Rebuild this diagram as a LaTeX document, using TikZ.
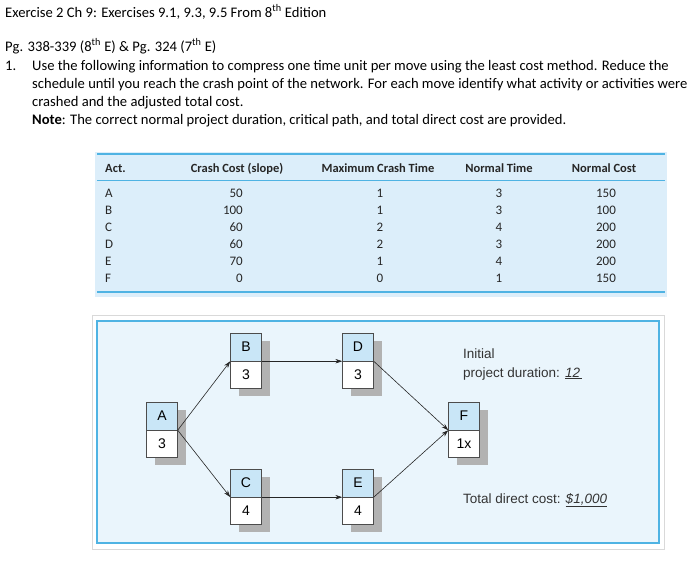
\documentclass[tikz,border=0pt]{standalone}
\usepackage{fontspec}
\setmainfont{Carlito}
\newfontfamily\figfont{Liberation Sans}
\usetikzlibrary{positioning,shadows,arrows.meta}
\definecolor{tabfill}{HTML}{DCEEFA}
\definecolor{netfill}{HTML}{EAF5FC}
\definecolor{rulecol}{HTML}{4FB3E3}
\definecolor{topfill}{HTML}{C9E6F7}
\tikzset{
  hdr/.style={anchor=base west, font=\fontsize{14.6}{17}\selectfont, inner sep=0pt},
  tab/.style={anchor=base, font=\fontsize{13}{15}\selectfont, inner sep=0pt, text=black!85},
  tabh/.style={tab, font=\fontsize{12.5}{14}\selectfont\bfseries},
  acttop/.style={draw=black!70, fill=topfill, minimum width=31pt, minimum height=28pt,
    inner sep=0pt, font=\figfont\fontsize{14}{16}\selectfont,
    drop shadow={shadow xshift=8pt, shadow yshift=-8pt, opacity=1, fill=black!30}},
  actbot/.style={acttop, fill=white, minimum height=27pt},
  link/.style={draw=black!85, semithick, -{Stealth[length=7pt,width=4.5pt]}},
  note/.style={anchor=base west, inner sep=0pt, font=\figfont\fontsize{13.5}{16}\selectfont, text=black!80}
}
\begin{document}
\begin{tikzpicture}[x=1pt, y=-1pt]
  \useasboundingbox (0,0) rectangle (700,560);
  % header text
  \node[hdr] (title) at (5,17) {Exercise 2 Ch 9: Exercises 9.1, 9.3, 9.5 From 8\textsuperscript{th} Edition};
  \node[hdr] (pages) at (5,51) {Pg. 338-339 (8\textsuperscript{th} E) \& Pg. 324 (7\textsuperscript{th} E)};
  \node[hdr] (num) at (5,70) {1.};
  \node[hdr] (l1) at (32,70) {Use the following information to compress one time unit per move using the least cost method. Reduce the};
  \node[hdr] (l2) at (32,88) {schedule until you reach the crash point of the network. For each move identify what activity or activities were};
  \node[hdr] (l3) at (32,106) {crashed and the adjusted total cost.};
  \node[hdr] (l4) at (32,124) {\textbf{Note}: The correct normal project duration, critical path, and total direct cost are provided.};

  % table
  \fill[tabfill] (95,152) rectangle (667,297);
  \draw[rulecol, line width=1.2pt] (97,154) -- (665,154);
  \draw[rulecol, line width=1pt] (97,180) -- (665,180);
  \draw[rulecol, line width=1.2pt] (97,292) -- (665,292);
  \node[tabh, anchor=base west] (hact) at (105,172) {Act.};
  \node[tabh] (hcc) at (237,172) {Crash Cost (slope)};
  \node[tabh] (hmc) at (378,172) {Maximum Crash Time};
  \node[tabh] (hnt) at (499,172) {Normal Time};
  \node[tabh] (hnc) at (604,172) {Normal Cost};
  \foreach \a/\cc/\mc/\nt/\nc [count=\i] in {A/50/1/3/150, B/100/1/3/100, C/60/2/4/200,
      D/60/2/3/200, E/70/1/4/200, F/0/0/1/150}{
    \node[tab, anchor=base west] (r\i a) at (105,180+17*\i) {\a};
    \node[tab, anchor=base east] (r\i b) at (243,180+17*\i) {\cc};
    \node[tab] (r\i c) at (380,180+17*\i) {\mc};
    \node[tab] (r\i d) at (499,180+17*\i) {\nt};
    \node[tab] (r\i e) at (606,180+17*\i) {\nc};
  }

  % network
  \draw[black!15, fill=white] (92,315) rectangle (664,549);
  \draw[rulecol, line width=1.5pt, fill=netfill] (97,321) rectangle (659,543);
  \foreach \n/\d/\x/\y in {A/3/162/416, B/3/246/347, D/3/358/347, F/1x/464/416, C/4/246/483, E/4/358/483}{
    \node[acttop] (\n) at (\x,\y) {\n};
    \node[actbot, below=0pt of \n] (\n d) {\d};
  }
  \draw[link] (A.south east) -- (B.south west);
  \draw[link] (A.south east) -- (C.south west);
  \draw[link] (B.south east) -- (D.south west);
  \draw[link] (C.south east) -- (E.south west);
  \draw[link] (D.south east) -- (F.south west);
  \draw[link] (E.south east) -- (F.south west);
  \node[note] (init) at (463,358) {Initial};
  \node[note] (dur) at (463,377) {project duration: \underline{\textit{12\,}}};
  \node[note] (cost) at (463,503) {Total direct cost: \underline{\textit{\$1,000}}};
\end{tikzpicture}
\end{document}
